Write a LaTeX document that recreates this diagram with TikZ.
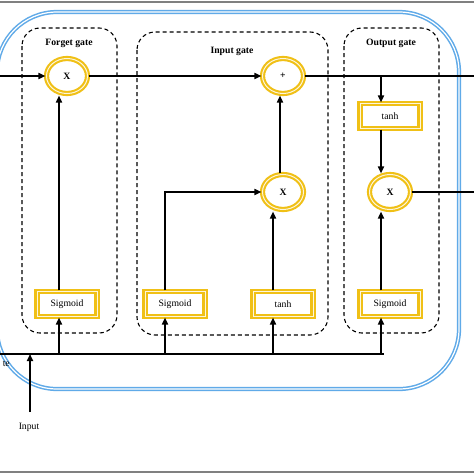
\documentclass[tikz,border=0pt]{standalone}
\usepackage{fontspec}
\setmainfont{Liberation Serif}
\usetikzlibrary{arrows.meta}
\definecolor{gold}{RGB}{240,192,22}
\definecolor{skyblue}{RGB}{96,170,232}
\tikzset{
  wire/.style={line width=1.6pt},
  arr/.style={wire,-{Triangle[length=7pt,width=6pt]}},
  gatebox/.style={dashed,line width=1.1pt,dash pattern=on 4pt off 3pt,rounded corners=18pt},
  op/.style={ellipse,draw=gold,line width=2.1pt,double=white!85!gold,double distance=1pt,
    minimum width=41pt,minimum height=35pt,inner sep=0pt,font=\fontsize{9.7}{11}\selectfont\bfseries},
  act/.style={rectangle,draw=gold,line width=2.1pt,double=white!85!gold,double distance=1pt,
    minimum width=60pt,minimum height=25pt,inner sep=0pt,font=\fontsize{9.7}{11}\selectfont},
  title/.style={font=\fontsize{9.7}{11}\selectfont\bfseries},
  plain/.style={font=\fontsize{9.7}{11}\selectfont}
}
\usetikzlibrary{shapes.geometric}
\begin{document}
\begin{tikzpicture}[x=1pt,y=-1pt]
    \useasboundingbox[fill=white] (0,0) rectangle (474,474);
    % page rules
    \draw[gray,line width=2pt] (0,2) -- (474,2);
    \draw[gray,line width=2pt] (0,472) -- (474,472);
    % cell
    \draw[skyblue,line width=1.5pt,double=white,double distance=1.2pt,rounded corners=60pt]
        (-3,12) rectangle (459,389);
    % gates
    \draw[gatebox] (22,28) rectangle (117,333);
    \draw[gatebox] (137,32) rectangle (328,335);
    \draw[gatebox] (344,28) rectangle (439,333);
    \node[title] (tforget) at (69,43) {Forget gate};
    \node[title] (tinput) at (232,51) {Input gate};
    \node[title] (toutput) at (391,43) {Output gate};
    % operations
    \node[op] (fx) at (67,76) {X};
    \node[op] (px) at (283,76) {+};
    \node[op] (ix) at (283,192) {X};
    \node[op] (ox) at (390,192) {X};
    \node[act] (otanh) at (390,116) {tanh};
    \node[act] (fsig) at (67,304) {Sigmoid};
    \node[act] (isig) at (175,304) {Sigmoid};
    \node[act] (itanh) at (283,304) {tanh};
    \node[act] (osig) at (390,304) {Sigmoid};
    % columns and ends
    \coordinate (fcol) at (59,0);
    \coordinate (icol) at (165,0);
    \coordinate (tcol) at (273,0);
    \coordinate (pcol) at (280,0);
    \coordinate (ocol) at (381,0);
    \coordinate (cin) at (0,76);
    \coordinate (cout) at (474,76);
    \coordinate (hout) at (474,192);
    \coordinate (xin) at (0,354);
    \coordinate (xend) at (384,354);
    \coordinate (inp) at (30,412);
    % cell state line
    \draw[arr] (cin) -- (fx.west);
    \draw[arr] (fx.east) -- (px.west);
    \draw[wire] (px.east) -- (cout);
    \draw[arr] (ocol |- cout) -- (otanh.north -| ocol);
    \draw[arr] (otanh.south -| ocol) -- (ox.north -| ocol);
    \draw[wire] (ox.east) -- (hout);
    % gate paths
    \draw[arr] (fsig.north -| fcol) -- ([yshift=-1pt]fx.south -| fcol);
    \draw[arr] (isig.north -| icol) |- (ix.west);
    \draw[arr] (itanh.north -| tcol) -- ([yshift=-1pt]ix.south -| tcol);
    \draw[arr] (ix.north -| pcol) -- ([yshift=-1pt]px.south -| pcol);
    \draw[arr] (osig.north -| ocol) -- ([yshift=-1pt]ox.south -| ocol);
    % input line
    \draw[wire] (xin) -- (xend);
    \draw[arr] (fcol |- xin) -- (fsig.south -| fcol);
    \draw[arr] (icol |- xin) -- (isig.south -| icol);
    \draw[arr] (tcol |- xin) -- (itanh.south -| tcol);
    \draw[arr] (ocol |- xin) -- (osig.south -| ocol);
    \draw[arr] (inp) -- (inp |- xin);
    \node[plain] (linput) at (29,427) {Input};
    \node[plain,anchor=east,inner sep=0pt] (lstate) at (10,364) {te};
\end{tikzpicture}
\end{document}
